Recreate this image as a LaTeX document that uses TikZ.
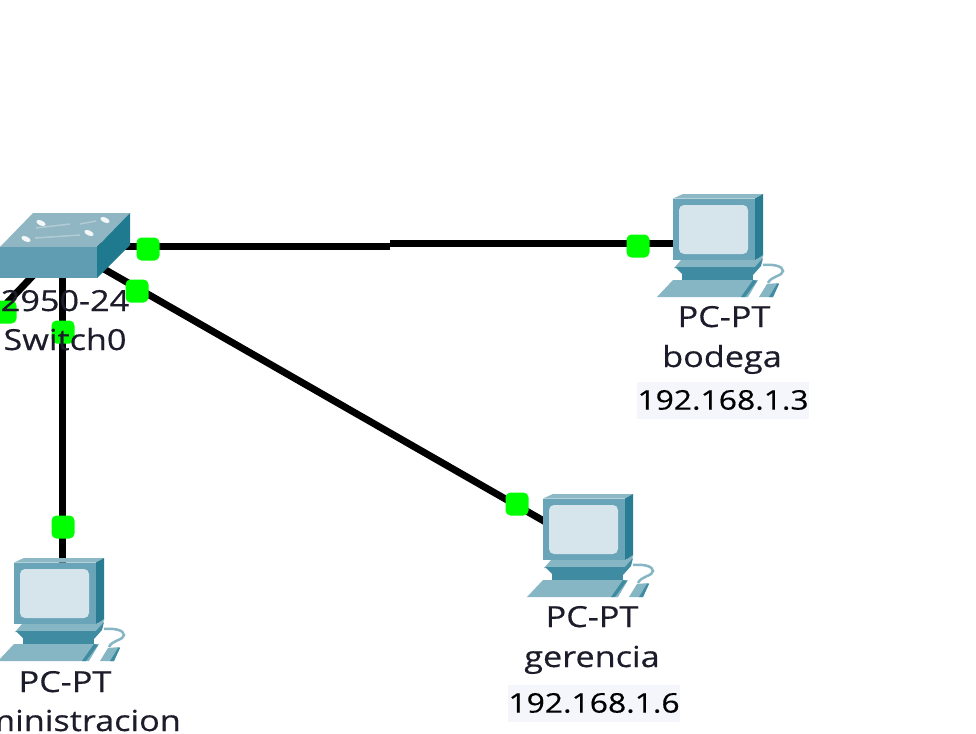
\documentclass[tikz,border=0pt]{standalone}
\usepackage{fontspec}
\setmainfont[FakeStretch=1.18,FakeBold=0.4]{Open Sans}
\definecolor{pctop}{HTML}{8DB9C6}
\definecolor{pcbody}{HTML}{6AA4B8}
\definecolor{pcside}{HTML}{2A7C92}
\definecolor{pcscreen}{HTML}{D6E5EC}
\definecolor{pcbase}{HTML}{3F8BA1}
\definecolor{pckey}{HTML}{86B6C4}
\definecolor{swtop}{HTML}{8FB6C2}
\definecolor{swfront}{HTML}{619DB2}
\definecolor{swside}{HTML}{1F7A90}
\definecolor{ipbg}{HTML}{F4F6FC}
\definecolor{labelink}{HTML}{1C1C2A}
\tikzset{
  link/.style={line width=7pt,black},
  portdot/.style={fill=green,draw=none,rounded corners=5pt,minimum size=23pt,inner sep=0pt},
  anchorbox/.style={inner sep=0pt,minimum width=82pt,minimum height=100pt},
  lbl/.style={font=\fontsize{29}{29}\selectfont,text=labelink,inner sep=0pt,anchor=base},
  iplbl/.style={font=\fontsize{27}{27}\selectfont,text=black,inner sep=0pt,anchor=center,fill=ipbg,minimum height=37pt},
  pics/pccomp/.style={code={
    % monitor
    \fill[pctop] (0,4.5) -- (10,0) -- (90,0) -- (82,4.5) -- cycle;
    \fill[pcbody] (0,4.5) rectangle (82,66);
    \fill[pcside] (82,4.5) -- (90,0) -- (90,62) -- (82,66) -- cycle;
    \fill[pcscreen,rounded corners=5pt] (6,11) rectangle (75,60);
    % stand
    \fill[pckey] (8,66) -- (83,66) -- (90,61) -- (88,70) -- (80,74) -- (1,74) -- cycle;
    \fill[pcbase] (2,73) -- (82,73) -- (90,64) -- (88,72) -- (80,81) -- (10,81) -- cycle;
    \fill[pcbase] (9,80) rectangle (80,86);
    % keyboard
    \fill[pckey] (-16,103) -- (0,86) -- (85,86) -- (75,103) -- cycle;
    \fill[pcbase] (72,103) -- (84,87) -- (80,86) -- (68,103) -- cycle;
    % mouse and cord
    \fill[pckey] (86,103) -- (94,90) -- (106,89) -- (100,103) -- cycle;
    \fill[pcbase] (96,103) -- (104,90) -- (106,90) -- (100,103) -- cycle;
    \draw[pckey,line width=2.5pt] (90,71) .. controls (100,70) and (110,72) .. (110,77) .. controls (110,82) and (98,82) .. (95,89);
  }}
}
\begin{document}
\begin{tikzpicture}[x=1pt,y=-1pt]
\useasboundingbox (0,0) rectangle (976,733);
\fill[white] (0,0) rectangle (976,733);
\clip (0,0) rectangle (976,733);

% named anchors
\node[inner sep=0pt,minimum width=130pt,minimum height=66pt] (sw) at (65,245) {};
\node[anchorbox] (bodega) at (714,244) {};
\node[anchorbox] (gerencia) at (584,544) {};
\node[anchorbox] (admin) at (62,608) {};
\coordinate (step1) at (390,246.5);
\coordinate (step2) at (390,243.5);
\coordinate (swdown) at (62,245);
\coordinate (swwest) at (-12,323);

% links
\draw[link] (sw.center |- step1) -- (step1);
\draw[link] (step2) -- (bodega.center |- step2);
\draw[link] (swdown) -- (gerencia.center);
\draw[link] (swdown) -- (admin.center);
\draw[link] (swdown) -- (swwest);

% switch
\fill[swtop] (0,247) -- (33,213) -- (130,213) -- (97,247) -- cycle;
\fill[swfront] (0,247) rectangle (97,278);
\fill[swside] (97,247) -- (130,213) -- (130,245) -- (97,278) -- cycle;
\draw[white!30!swtop,line width=1.5pt] (36,228) -- (70,224) (80,224) -- (96,221) (35,238) -- (80,235);
\foreach \a/\b in {41/223,105/220,26/239,89/233}
  \fill[white!90!swtop,rotate around={-25:(\a,\b)}] (\a,\b) ellipse (5pt and 2.5pt);

% PCs
\pic at (673,194) {pccomp};
\pic at (543,494) {pccomp};
\pic at (14,558) {pccomp};

% port dots
\node[portdot] (d1) at (148,249) {};
\node[portdot] (d2) at (638,246) {};
\node[portdot] (d3) at (137,291) {};
\node[portdot] (d4) at (517,504) {};
\node[portdot] (d5) at (63,332) {};
\node[portdot] (d6) at (63,527) {};
\node[portdot] (d7) at (5,312) {};

% labels
\node[lbl] (swm) at (65,311) {2950-24};
\node[lbl] (swn) at (65,350) {Switch0};
\node[lbl] (bm) at (724,327) {PC-PT};
\node[lbl] (bn) at (722,367) {bodega};
\node[iplbl,minimum width=168pt] (bi) at (723,400) {192.168.1.3};
\node[lbl] (gm) at (592,627) {PC-PT};
\node[lbl] (gn) at (592,667) {gerencia};
\node[iplbl,minimum width=167pt] (gi) at (594,703) {192.168.1.6};
\node[lbl] (am) at (65,692) {PC-PT};
\node[lbl,anchor=base east] (an) at (181,731) {Administracion};
\end{tikzpicture}
\end{document}
